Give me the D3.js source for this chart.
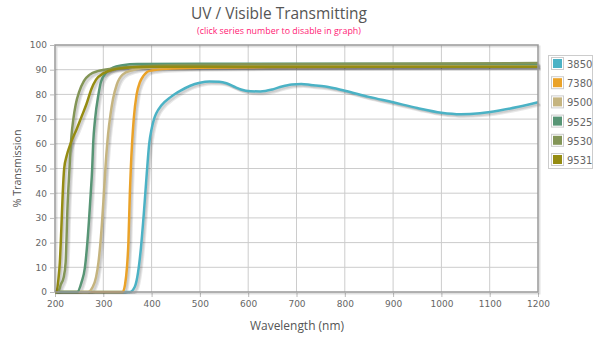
<!DOCTYPE html>
<html>
<head>
<meta charset="utf-8">
<script src="https://cdn.jsdelivr.net/npm/d3@7"></script>
<style>
  html, body { margin: 0; padding: 0; background: #fff; }
  svg { display: block; }
</style>
</head>
<body>
<svg id="chart" width="600" height="337"></svg>
<script>
// ---------- data ----------
const seriesNames = ["3850", "7380", "9500", "9525", "9530", "9531"];
const seriesColors = ["#4bb2c5", "#EAA228", "#c5b47f", "#579575", "#839557", "#958c12"];

const wl3850 = [200, 355, 365, 372, 378, 384, 390, 395, 400, 405, 410, 420, 440, 460, 480, 500, 520, 540, 555, 570, 585, 605, 625, 650, 670, 690, 710, 730, 760, 800, 850, 900, 950, 1000, 1040, 1080, 1120, 1160, 1200];
const t3850  = [0, 0, 2, 8, 18, 32, 48, 60, 66, 70, 72.5, 75.5, 79, 81.5, 83.5, 84.7, 85.2, 85.1, 84.5, 83.2, 82, 81.3, 81.2, 82, 83.2, 84, 84.2, 83.8, 83.2, 81.5, 79, 76.8, 74.5, 72.6, 72.0, 72.4, 73.5, 75, 76.8];

const wl7380 = [200, 340, 345, 349, 352, 355, 357, 363, 369, 376, 383, 390, 400, 430, 500, 700, 1200];
const t7380  = [0, 0, 3, 10, 20, 40, 50, 70, 80, 85, 87.5, 89, 89.7, 90.4, 90.8, 91.1, 91.4];

const wl9500 = [200, 268, 278, 285, 290, 295, 300, 305, 310, 315, 320, 328, 340, 360, 380, 450, 700, 1200];
const t9500  = [0, 0, 2, 6, 12, 22, 36, 52, 64, 72, 78, 84, 88, 89.8, 90.6, 91.2, 91.5, 91.8];

const wl9525 = [200, 246, 255, 262, 267, 274, 277, 279, 283, 290, 295, 307, 320, 340, 370, 500, 800, 1200];
const t9525  = [0, 0, 4, 10, 20, 40, 50, 60, 70, 80, 85, 89, 90.8, 91.8, 92.3, 92.4, 92.4, 92.3];

const wl9530 = [200, 206, 212, 218, 222, 226, 230, 234, 238, 243, 250, 260, 272, 290, 320, 360, 400, 600, 1200];
const t9530  = [0, 0, 3, 6, 12, 35, 50, 63, 70, 76, 81, 85.5, 88, 89.5, 90.5, 91.2, 91.6, 92.2, 92.7];

const wl9531 = [200, 203, 207, 210, 213, 216, 219, 224, 232, 245, 255, 265, 275, 285, 300, 320, 360, 400, 700, 1200];
const t9531  = [0, 0, 5, 12, 25, 40, 50, 55, 60, 66, 71, 76, 82, 86, 88.5, 90, 91, 91.2, 91.2, 91.2];

const xTicks = [200, 300, 400, 500, 600, 700, 800, 900, 1000, 1100, 1200];
const yTicks = [0, 10, 20, 30, 40, 50, 60, 70, 80, 90, 100];

const titleText = "UV / Visible Transmitting";
const subtitleText = "(click series number to disable in graph)";
const xLabelText = "Wavelength (nm)";
const yLabelText = "% Transmission";

const wlArrays = [wl3850, wl7380, wl9500, wl9525, wl9530, wl9531];
const tArrays = [t3850, t7380, t9500, t9525, t9530, t9531];

// ---------- layout ----------
const svg = d3.select("#chart");
const plot = { left: 55, right: 538, top: 45, bottom: 292 };
const x = d3.scaleLinear().domain([200, 1200]).range([plot.left, plot.right]);
const y = d3.scaleLinear().domain([0, 100]).range([plot.bottom, plot.top]);

const tickFont = "'DejaVu Sans', Verdana, sans-serif";
const labelFont = "'Open Sans', 'DejaVu Sans', sans-serif";

function fitText(sel, targetWidth) {
  const node = sel.node();
  const fs = parseFloat(sel.attr("font-size"));
  const w = node.getComputedTextLength();
  if (w > 0) sel.attr("font-size", (fs * targetWidth / w).toFixed(2));
}

// background grid
const grid = svg.append("g");
grid.selectAll("line.v").data(xTicks.slice(1, -1)).join("line")
  .attr("x1", d => x(d)).attr("x2", d => x(d))
  .attr("y1", plot.top).attr("y2", plot.bottom)
  .attr("stroke", "#cccccc").attr("stroke-width", 1);
grid.selectAll("line.h").data(yTicks.slice(1, -1)).join("line")
  .attr("x1", plot.left).attr("x2", plot.right)
  .attr("y1", d => y(d)).attr("y2", d => y(d))
  .attr("stroke", "#cccccc").attr("stroke-width", 1);

// axes
const yAxis = d3.axisLeft(y).tickValues(yTicks).tickSize(4).tickPadding(3).tickFormat(d3.format("d"));
const xAxis = d3.axisBottom(x).tickValues(xTicks).tickSize(4).tickPadding(4).tickFormat(d3.format("d"));

const gy = svg.append("g").attr("transform", `translate(${plot.left - 1},0)`).call(yAxis);
const gx = svg.append("g").attr("transform", `translate(0,${plot.bottom + 1})`).call(xAxis);
[gx, gy].forEach(g => {
  g.select(".domain").remove();
  g.selectAll(".tick line").attr("stroke", "#bbbbbb");
  g.selectAll(".tick text").attr("fill", "#666666")
    .style("font-family", tickFont).style("font-size", "9px");
});

// series lines with shadow
const line = d3.line().x(d => x(d[0])).y(d => y(d[1])).curve(d3.curveMonotoneX);
const seriesData = seriesNames.map((n, i) => wlArrays[i].map((w, j) => [w, tArrays[i][j]]));

svg.append("defs").append("clipPath").attr("id", "clip")
  .append("rect").attr("x", plot.left - 2).attr("y", plot.top - 2)
  .attr("width", plot.right - plot.left + 6).attr("height", plot.bottom - plot.top + 4);

const lines = svg.append("g").attr("clip-path", "url(#clip)");
seriesData.forEach((pts) => {
  for (let k = 3; k >= 1; k--) {
    lines.append("path").datum(pts)
      .attr("d", line).attr("fill", "none")
      .attr("stroke", "rgba(0,0,0,0.09)").attr("stroke-width", 2.5)
      .attr("stroke-linejoin", "round")
      .attr("transform", `translate(${k * 0.9},${k * 0.9})`);
  }
});
seriesData.forEach((pts, i) => {
  lines.append("path").datum(pts)
    .attr("d", line).attr("fill", "none")
    .attr("stroke", seriesColors[i]).attr("stroke-width", 2.5)
    .attr("stroke-linejoin", "round");
});

// plot border
svg.append("rect")
  .attr("x", plot.left + 1.5).attr("y", plot.top + 1.5)
  .attr("width", plot.right - plot.left).attr("height", plot.bottom - plot.top)
  .attr("fill", "none").attr("stroke", "rgba(0,0,0,0.12)").attr("stroke-width", 2);
svg.append("rect")
  .attr("x", plot.left).attr("y", plot.top)
  .attr("width", plot.right - plot.left).attr("height", plot.bottom - plot.top)
  .attr("fill", "none").attr("stroke", "#999999").attr("stroke-width", 1.5);

// titles
const title = svg.append("text").text(titleText)
  .attr("x", 279).attr("y", 19).attr("text-anchor", "middle")
  .attr("font-family", labelFont).attr("font-size", 16).attr("fill", "#555555");
fitText(title, 176);

const sub = svg.append("text").text(subtitleText)
  .attr("x", 279).attr("y", 34).attr("text-anchor", "middle")
  .attr("font-family", labelFont).attr("font-size", 9).attr("fill", "#ff1a75");
fitText(sub, 164);

const xl = svg.append("text").text(xLabelText)
  .attr("x", 297).attr("y", 330).attr("text-anchor", "middle")
  .attr("font-family", labelFont).attr("font-size", 12).attr("fill", "#555555");
fitText(xl, 94);

const yl = svg.append("text").text(yLabelText)
  .attr("transform", `translate(21,${(plot.top + plot.bottom) / 2}) rotate(-90)`)
  .attr("text-anchor", "middle")
  .attr("font-family", labelFont).attr("font-size", 12).attr("fill", "#555555");
fitText(yl, 78);

// legend
const legend = svg.append("g");
legend.append("rect").attr("x", 548.5).attr("y", 55.5).attr("width", 44).attr("height", 113)
  .attr("fill", "#fff").attr("stroke", "#cccccc").attr("stroke-width", 1);
const rowY = d3.scalePoint().domain(seriesNames).range([64, 160]);
const rows = legend.selectAll("g.row").data(seriesNames).join("g")
  .attr("transform", d => `translate(0,${rowY(d)})`);
rows.append("rect").attr("x", 551.5).attr("y", -6.5).attr("width", 12).attr("height", 12)
  .attr("fill", "#fff").attr("stroke", "#cccccc").attr("stroke-width", 1);
rows.append("rect").attr("x", 553).attr("y", -5).attr("width", 9).attr("height", 9)
  .attr("fill", (d, i) => seriesColors[i]);
rows.append("text").text(d => d)
  .attr("x", 567).attr("y", 4)
  .attr("font-family", tickFont).attr("font-size", 10).attr("fill", "#666666");
</script>
</body>
</html>
